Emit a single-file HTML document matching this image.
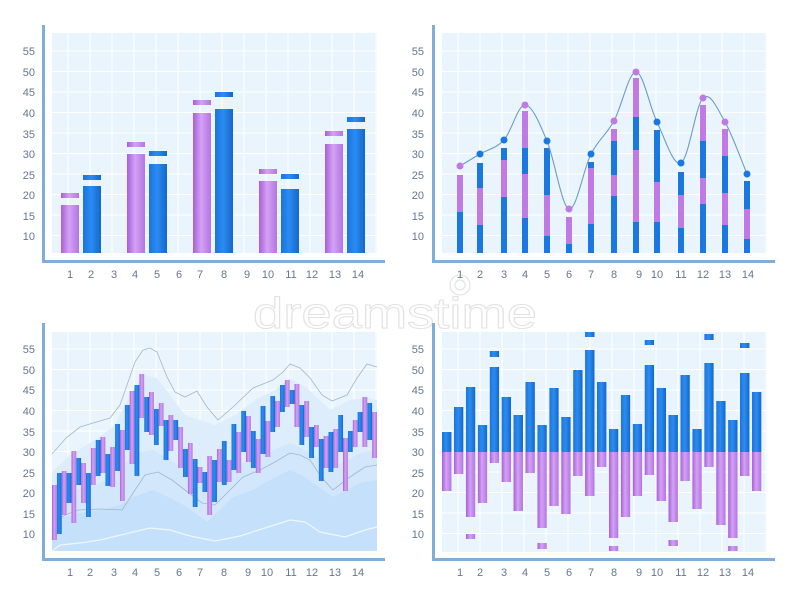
<!DOCTYPE html>
<html><head><meta charset="utf-8"><style>
html,body{margin:0;padding:0;background:#fff;}
svg{display:block;}
text{font-family:"Liberation Sans",sans-serif;font-size:11px;fill:#66768c;}
</style></head><body>
<svg width="800" height="607" viewBox="0 0 800 607" xmlns="http://www.w3.org/2000/svg">
<defs>
<linearGradient id="gp" x1="0" x2="1" y1="0" y2="0"><stop offset="0" stop-color="#a85ed8"/><stop offset="0.45" stop-color="#d3a2f3"/><stop offset="1" stop-color="#b474e2"/></linearGradient>
<linearGradient id="gb" x1="0" x2="1" y1="0" y2="0"><stop offset="0" stop-color="#1a74dc"/><stop offset="0.45" stop-color="#2b8cf0"/><stop offset="1" stop-color="#1466cc"/></linearGradient>
<pattern id="p1p" patternUnits="userSpaceOnUse" x="61" y="0" width="22" height="607"><rect width="18" height="607" fill="url(#gp)"/></pattern>
<pattern id="p1b" patternUnits="userSpaceOnUse" x="83" y="0" width="22" height="607"><rect width="18" height="607" fill="url(#gb)"/></pattern>
<pattern id="p4p" patternUnits="userSpaceOnUse" x="442" y="0" width="11.92" height="607"><rect width="9.5" height="607" fill="url(#gp)"/></pattern>
<pattern id="p4b" patternUnits="userSpaceOnUse" x="442" y="0" width="11.92" height="607"><rect width="9.5" height="607" fill="url(#gb)"/></pattern>
<pattern id="p3p" patternUnits="userSpaceOnUse" x="52" y="0" width="9.7" height="607"><rect width="5" height="607" fill="url(#gp)"/></pattern>
<pattern id="p3b" patternUnits="userSpaceOnUse" x="56.85" y="0" width="9.7" height="607"><rect width="5" height="607" fill="url(#gb)"/></pattern>
<pattern id="gA" patternUnits="userSpaceOnUse" x="67.5" y="50.5" width="22" height="20.5"><path d="M0 0.5H22M0.5 0V20.5" stroke="#fff" fill="none"/></pattern>
<pattern id="gB" patternUnits="userSpaceOnUse" x="457.5" y="50.5" width="22" height="20.5"><path d="M0 0.5H22M0.5 0V20.5" stroke="#fff" fill="none"/></pattern>
<pattern id="gC" patternUnits="userSpaceOnUse" x="67.5" y="348.5" width="22" height="20.5"><path d="M0 0.5H22M0.5 0V20.5" stroke="#fff" fill="none"/></pattern>
<pattern id="gD" patternUnits="userSpaceOnUse" x="457.5" y="348.5" width="22" height="20.5"><path d="M0 0.5H22M0.5 0V20.5" stroke="#fff" fill="none"/></pattern>
</defs>
<rect width="800" height="607" fill="#fff"/>

<g fill="none" stroke="#e4e4e4" stroke-width="1.2"><circle cx="460" cy="285" r="10"/><circle cx="460" cy="285" r="5"/></g>
<text x="395" y="328" text-anchor="middle" textLength="284" lengthAdjust="spacingAndGlyphs" style="font-size:44px;fill:#fff;stroke:#e2e2e2;stroke-width:1">dreamstime</text>

<!-- panel backgrounds and grids -->
<rect x="52" y="33" width="325" height="220" fill="#eaf4fd"/><rect x="52" y="33" width="325" height="220" fill="url(#gA)"/>
<rect x="442" y="33" width="325" height="220" fill="#eaf4fd"/><rect x="442" y="33" width="325" height="220" fill="url(#gB)"/>
<rect x="52" y="332" width="325" height="219" fill="#eaf4fd"/><rect x="52" y="332" width="325" height="219" fill="url(#gC)"/>
<rect x="442" y="332" width="325" height="220" fill="#eaf4fd"/><rect x="442" y="332" width="325" height="220" fill="url(#gD)"/>

<!-- panel 1 bars -->
<path fill="url(#p1p)" d="M61 193h18v5h-18zM61 205h18v48h-18zM127 142h18v5h-18zM127 154h18v99h-18zM193 100h18v5h-18zM193 113h18v140h-18zM259 169h18v5h-18zM259 181h18v72h-18zM325 131h18v5h-18zM325 144h18v109h-18z"/>
<path fill="url(#p1b)" d="M83 175h18v5h-18zM83 186h18v67h-18zM149 151h18v5h-18zM149 164h18v89h-18zM215 92h18v5h-18zM215 109h18v144h-18zM281 174h18v5h-18zM281 189h18v64h-18zM347 117h18v5h-18zM347 129h18v124h-18z"/>

<!-- panel 2 bars, curve, dots -->
<path fill="#1a78e0" d="M457 212h6V253h-6zM477 225h6V253h-6zM477 163h6V188h-6zM501 197h6V253h-6zM501 148h6V160h-6zM522 218h6V253h-6zM522 148h6V174h-6zM544 236h6V253h-6zM544 148h6V195h-6zM566 244h6V253h-6zM588 224h6V253h-6zM588 162h6V168h-6zM611 196h6V253h-6zM611 141h6V175h-6zM633 222h6V253h-6zM633 117h6V150h-6zM654 222h6V253h-6zM654 130h6V182h-6zM678 228h6V253h-6zM678 172h6V195h-6zM700 204h6V253h-6zM700 141h6V178h-6zM722 225h6V253h-6zM722 156h6V193h-6zM744 239h6V253h-6zM744 181h6V209h-6z"/>
<path fill="#c07ae6" d="M457 175h6V212h-6zM477 188h6V225h-6zM501 160h6V197h-6zM522 174h6V218h-6zM522 111h6V148h-6zM544 195h6V236h-6zM566 217h6V244h-6zM588 168h6V224h-6zM611 175h6V196h-6zM611 129h6V141h-6zM633 150h6V222h-6zM633 78h6V117h-6zM654 182h6V222h-6zM678 195h6V228h-6zM700 178h6V204h-6zM700 105h6V141h-6zM722 193h6V225h-6zM722 129h6V156h-6zM744 209h6V239h-6z"/>
<path fill="none" stroke="#6a9cc8" stroke-width="1.1" d="M460 166C463.3 164 472.7 158.3 480 154C487.3 149.7 496.5 148.2 504 140C511.5 131.8 517.8 104.8 525 105C532.2 105.2 539.7 123.7 547 141C554.3 158.3 561.7 206.8 569 209C576.3 211.2 583.5 168.7 591 154C598.5 139.3 606.5 134.7 614 121C621.5 107.3 628.8 71.8 636 72C643.2 72.2 649.5 106.8 657 122C664.5 137.2 673.3 167 681 163C688.7 159 695.7 104.8 703 98C710.3 91.2 717.7 109.3 725 122C732.3 134.7 743.3 165.3 747 174"/>
<path fill="#c07ae6" d="M456.5 166a3.5 3.5 0 1 0 7 0a3.5 3.5 0 1 0-7 0zM521.5 105a3.5 3.5 0 1 0 7 0a3.5 3.5 0 1 0-7 0zM565.5 209a3.5 3.5 0 1 0 7 0a3.5 3.5 0 1 0-7 0zM610.5 121a3.5 3.5 0 1 0 7 0a3.5 3.5 0 1 0-7 0zM632.5 72a3.5 3.5 0 1 0 7 0a3.5 3.5 0 1 0-7 0zM699.5 98a3.5 3.5 0 1 0 7 0a3.5 3.5 0 1 0-7 0zM721.5 122a3.5 3.5 0 1 0 7 0a3.5 3.5 0 1 0-7 0z"/>
<path fill="#1a78e0" d="M476.5 154a3.5 3.5 0 1 0 7 0a3.5 3.5 0 1 0-7 0zM500.5 140a3.5 3.5 0 1 0 7 0a3.5 3.5 0 1 0-7 0zM543.5 141a3.5 3.5 0 1 0 7 0a3.5 3.5 0 1 0-7 0zM587.5 154a3.5 3.5 0 1 0 7 0a3.5 3.5 0 1 0-7 0zM653.5 122a3.5 3.5 0 1 0 7 0a3.5 3.5 0 1 0-7 0zM677.5 163a3.5 3.5 0 1 0 7 0a3.5 3.5 0 1 0-7 0zM743.5 174a3.5 3.5 0 1 0 7 0a3.5 3.5 0 1 0-7 0z"/>

<!-- panel 3 areas, lines, bars -->
<path fill="#deedfb" d="M52 472L70 455L95 440L115 425L130 395L143 375L157 378L170 395L185 415L200 420L215 425L235 415L255 400L275 390L290 378L307 388L330 410L350 400L367 398L377 400L377 551L52 551Z"/>
<path fill="#d2e7fb" d="M52 497L75 490L100 483L120 470L133 453L153 450L168 458L180 467L203 480L220 474L233 467L250 460L267 453L290 443L305 450L317 457L333 467L347 460L360 453L377 450L377 551L52 551Z"/>
<path fill="#c4e0fb" d="M52 523L65 517L80 513L100 510L120 505L133 497L153 490L170 498L187 507L207 522L220 510L233 497L253 490L270 480L290 470L305 477L313 483L333 497L347 490L360 483L377 480L377 551L52 551Z"/>
<path fill="none" stroke="#eef7ff" stroke-width="1.2" d="M52 551L60 545L80 543L100 540L125 534L150 528L170 530L190 536L215 541L240 536L265 528L290 520L305 522L320 532L345 537L365 530L377 527"/>
<path fill="none" stroke="#a2b6cb" stroke-width="0.8" d="M52 454L66 438L80 427L93 423L110 418L120 405L127 385L135 362L143 350L150 348L157 352L167 377L175 392L185 397L197 391L207 407L218 420L233 407L253 388L273 380L283 372L290 364L300 368L310 378L322 395L332 401L347 395L357 378L367 364L377 367M52 525L65 515L78 510L100 509L122 510L135 490L145 475L158 472L172 480L185 490L202 503L215 505L230 490L243 477L260 470L275 462L290 453L300 455L310 460L322 478L333 490L350 477L365 467L377 465"/>
<path fill="url(#p3p)" d="M52 485h5V540h-5zM61.7 471h5V515h-5zM71.4 451h5V523h-5zM81.1 463h5V503h-5zM90.8 448h5V485h-5zM100.5 437h5V473h-5zM110.2 447h5V487h-5zM119.9 430h5V501h-5zM129.6 391h5V464h-5zM139.3 374h5V418h-5zM149 392h5V435h-5zM158.7 403h5V426h-5zM168.4 415h5V451h-5zM178.1 427h5V468h-5zM187.8 443h5V494h-5zM197.5 467h5V483h-5zM207.2 456h5V515h-5zM216.9 449h5V482h-5zM226.6 460h5V482h-5zM236.3 432h5V473h-5zM246 416h5V462h-5zM255.7 439h5V473h-5zM265.4 421h5V457h-5zM275.1 401h5V427h-5zM284.8 380h5V407h-5zM294.5 384h5V427h-5zM304.2 401h5V437h-5zM313.9 425h5V447h-5zM323.6 436h5V468h-5zM333.3 429h5V468h-5zM343 438h5V491h-5zM352.7 420h5V447h-5zM362.4 397h5V447h-5zM372.1 412h5V458h-5z"/>
<path fill="url(#p3b)" d="M56.85 473h5V534h-5zM66.55 473h5V503h-5zM76.25 458h5V485h-5zM85.95 473h5V517h-5zM95.65 440h5V476h-5zM105.35 454h5V486h-5zM115.05 424h5V471h-5zM124.75 405h5V450h-5zM134.45 385h5V476h-5zM144.15 397h5V432h-5zM153.85 409h5V445h-5zM163.55 420h5V460h-5zM173.25 420h5V440h-5zM182.95 449h5V477h-5zM192.65 459h5V507h-5zM202.35 472h5V492h-5zM212.05 460h5V502h-5zM221.75 441h5V485h-5zM231.45 424h5V470h-5zM241.15 411h5V452h-5zM250.85 431h5V468h-5zM260.55 406h5V454h-5zM270.25 396h5V432h-5zM279.95 385h5V412h-5zM289.65 390h5V404h-5zM299.35 405h5V445h-5zM309.05 427h5V458h-5zM318.75 439h5V481h-5zM328.45 432h5V472h-5zM338.15 415h5V452h-5zM347.85 431h5V452h-5zM357.55 412h5V432h-5zM367.25 403h5V440h-5z"/>

<!-- panel 4 bars -->
<path fill="url(#p4b)" d="M442 432h9.5V452h-9.5zM453.92 407h9.5V452h-9.5zM465.84 387h9.5V452h-9.5zM477.76 425h9.5V452h-9.5zM489.68 367h9.5V452h-9.5zM501.6 397h9.5V452h-9.5zM513.52 415h9.5V452h-9.5zM525.44 382h9.5V452h-9.5zM537.36 425h9.5V452h-9.5zM549.28 388h9.5V452h-9.5zM561.2 417h9.5V452h-9.5zM573.12 370h9.5V452h-9.5zM585.04 350h9.5V452h-9.5zM596.96 382h9.5V452h-9.5zM608.88 429h9.5V452h-9.5zM620.8 395h9.5V452h-9.5zM632.72 424h9.5V452h-9.5zM644.64 365h9.5V452h-9.5zM656.56 388h9.5V452h-9.5zM668.48 415h9.5V452h-9.5zM680.4 375h9.5V452h-9.5zM692.32 429h9.5V452h-9.5zM704.24 363h9.5V452h-9.5zM716.16 401h9.5V452h-9.5zM728.08 420h9.5V452h-9.5zM740 373h9.5V452h-9.5zM751.92 392h9.5V452h-9.5zM489.68 351h9.5v6h-9.5zM585.04 332h9.5v5h-9.5zM644.64 340h9.5v5h-9.5zM704.24 334h9.5v6h-9.5zM740 343h9.5v5h-9.5z"/>
<path fill="url(#p4p)" d="M442 452h9.5V491h-9.5zM453.92 452h9.5V474h-9.5zM465.84 452h9.5V517h-9.5zM477.76 452h9.5V503h-9.5zM489.68 452h9.5V463h-9.5zM501.6 452h9.5V482h-9.5zM513.52 452h9.5V511h-9.5zM525.44 452h9.5V473h-9.5zM537.36 452h9.5V528h-9.5zM549.28 452h9.5V506h-9.5zM561.2 452h9.5V514h-9.5zM573.12 452h9.5V476h-9.5zM585.04 452h9.5V496h-9.5zM596.96 452h9.5V467h-9.5zM608.88 452h9.5V538h-9.5zM620.8 452h9.5V517h-9.5zM632.72 452h9.5V496h-9.5zM644.64 452h9.5V475h-9.5zM656.56 452h9.5V501h-9.5zM668.48 452h9.5V522h-9.5zM680.4 452h9.5V481h-9.5zM692.32 452h9.5V509h-9.5zM704.24 452h9.5V467h-9.5zM716.16 452h9.5V525h-9.5zM728.08 452h9.5V538h-9.5zM740 452h9.5V476h-9.5zM751.92 452h9.5V491h-9.5zM465.84 534h9.5v5h-9.5zM537.36 543h9.5v6h-9.5zM608.88 546h9.5v5h-9.5zM668.48 540h9.5v6h-9.5zM728.08 546h9.5v5h-9.5z"/>

<!-- axes -->
<path fill="#80aed8" d="M42 25h3v238h-3zM42 260h343v3h-343zM432 25h3v238h-3zM432 260h343v3h-343zM42 323h3v238h-3zM42 558h343v3h-343zM432 323h3v238h-3zM432 558h343v3h-343z"/>

<!-- labels -->
<text text-anchor="end"><tspan x="35" y="55">55</tspan><tspan x="35" y="76">50</tspan><tspan x="35" y="96">45</tspan><tspan x="35" y="117">40</tspan><tspan x="35" y="138">35</tspan><tspan x="35" y="158">30</tspan><tspan x="35" y="179">25</tspan><tspan x="35" y="199">20</tspan><tspan x="35" y="220">15</tspan><tspan x="35" y="240">10</tspan></text>
<text text-anchor="end"><tspan x="424" y="55">55</tspan><tspan x="424" y="76">50</tspan><tspan x="424" y="96">45</tspan><tspan x="424" y="117">40</tspan><tspan x="424" y="138">35</tspan><tspan x="424" y="158">30</tspan><tspan x="424" y="179">25</tspan><tspan x="424" y="199">20</tspan><tspan x="424" y="220">15</tspan><tspan x="424" y="240">10</tspan></text>
<text text-anchor="end"><tspan x="35" y="353">55</tspan><tspan x="35" y="374">50</tspan><tspan x="35" y="394">45</tspan><tspan x="35" y="415">40</tspan><tspan x="35" y="436">35</tspan><tspan x="35" y="456">30</tspan><tspan x="35" y="477">25</tspan><tspan x="35" y="497">20</tspan><tspan x="35" y="518">15</tspan><tspan x="35" y="538">10</tspan></text>
<text text-anchor="end"><tspan x="424" y="353">55</tspan><tspan x="424" y="374">50</tspan><tspan x="424" y="394">45</tspan><tspan x="424" y="415">40</tspan><tspan x="424" y="436">35</tspan><tspan x="424" y="456">30</tspan><tspan x="424" y="477">25</tspan><tspan x="424" y="497">20</tspan><tspan x="424" y="518">15</tspan><tspan x="424" y="538">10</tspan></text>
<text text-anchor="middle" y="278"><tspan x="70">1</tspan><tspan x="91">2</tspan><tspan x="114">3</tspan><tspan x="135">4</tspan><tspan x="157">5</tspan><tspan x="179">6</tspan><tspan x="200">7</tspan><tspan x="224">8</tspan><tspan x="247">9</tspan><tspan x="268">10</tspan><tspan x="291">11</tspan><tspan x="312">12</tspan><tspan x="335">13</tspan><tspan x="358">14</tspan></text>
<text text-anchor="middle" y="278"><tspan x="460">1</tspan><tspan x="480">2</tspan><tspan x="504">3</tspan><tspan x="525">4</tspan><tspan x="547">5</tspan><tspan x="569">6</tspan><tspan x="591">7</tspan><tspan x="614">8</tspan><tspan x="639">9</tspan><tspan x="657">10</tspan><tspan x="681">11</tspan><tspan x="703">12</tspan><tspan x="725">13</tspan><tspan x="748">14</tspan></text>
<text text-anchor="middle" y="576"><tspan x="70">1</tspan><tspan x="90">2</tspan><tspan x="114">3</tspan><tspan x="135">4</tspan><tspan x="157">5</tspan><tspan x="179">6</tspan><tspan x="200">7</tspan><tspan x="224">8</tspan><tspan x="248">9</tspan><tspan x="267">10</tspan><tspan x="291">11</tspan><tspan x="312">12</tspan><tspan x="335">13</tspan><tspan x="358">14</tspan></text>
<text text-anchor="middle" y="576"><tspan x="460">1</tspan><tspan x="480">2</tspan><tspan x="504">3</tspan><tspan x="525">4</tspan><tspan x="547">5</tspan><tspan x="569">6</tspan><tspan x="591">7</tspan><tspan x="614">8</tspan><tspan x="639">9</tspan><tspan x="657">10</tspan><tspan x="681">11</tspan><tspan x="703">12</tspan><tspan x="725">13</tspan><tspan x="748">14</tspan></text>
</svg>
</body></html>
